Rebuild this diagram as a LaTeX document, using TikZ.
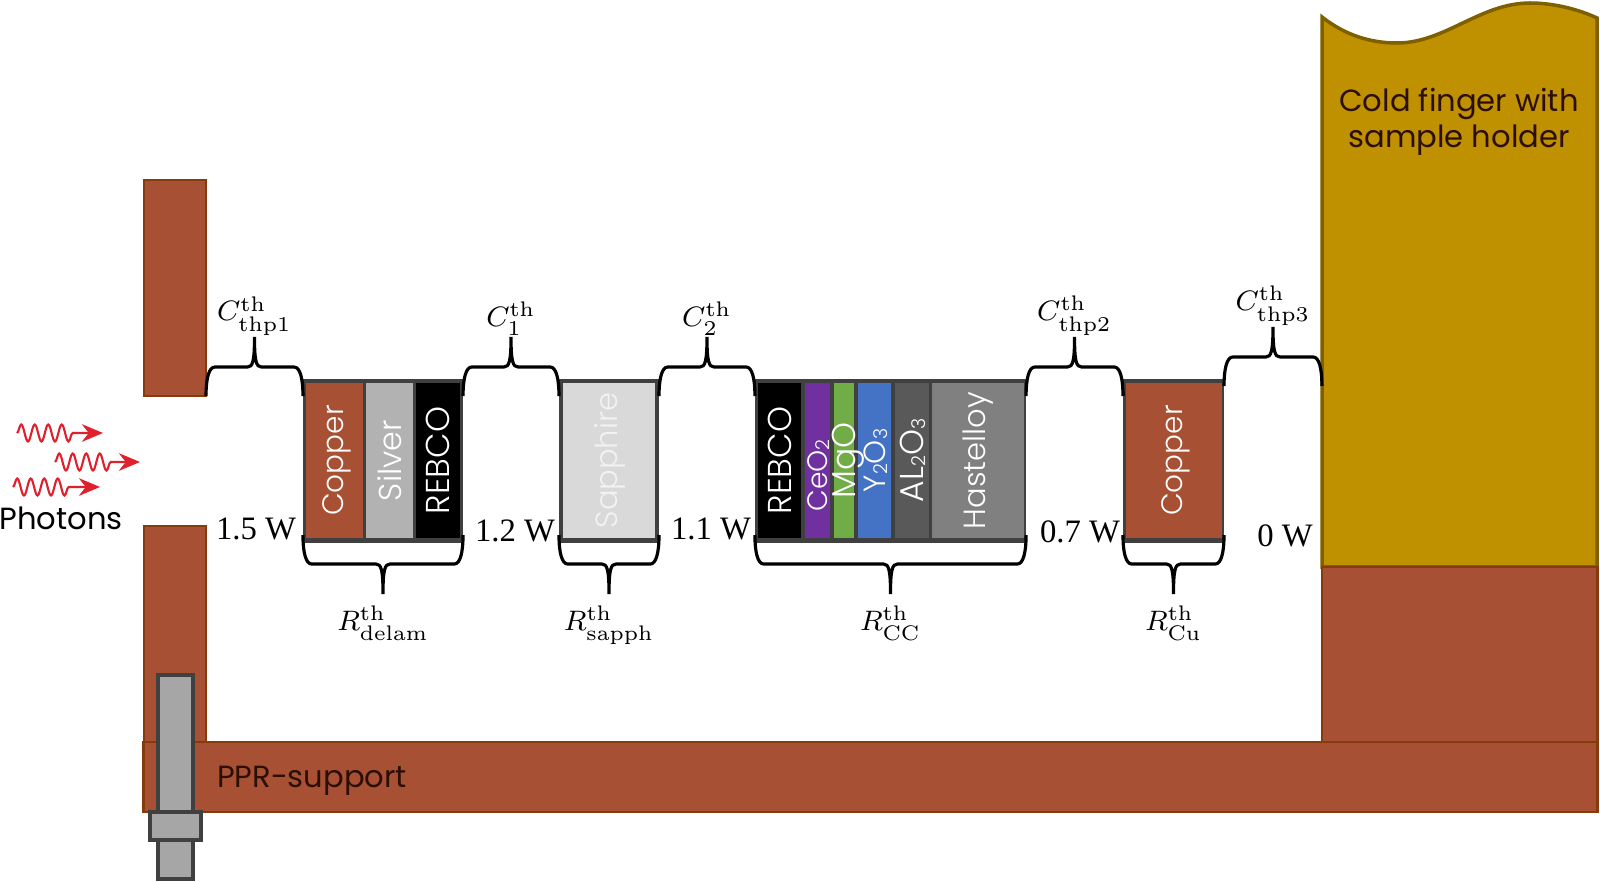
\documentclass[tikz,border=0pt]{standalone}
\usepackage[no-math]{fontspec}
\setmainfont{Poppins}
\newfontfamily\wattfont{Liberation Serif}
\newfontfamily\layerfont{Poppins Light}
\usetikzlibrary{arrows.meta,calc,decorations.pathmorphing}
\definecolor{copperfill}{HTML}{A85034}
\definecolor{copperline}{HTML}{843C0C}
\definecolor{goldfill}{HTML}{BF9000}
\definecolor{goldline}{HTML}{7F6000}
\definecolor{frameline}{HTML}{404040}
\definecolor{boltfill}{HTML}{A6A6A6}
\definecolor{darktext}{HTML}{2B0F05}
\definecolor{photonred}{HTML}{E0202C}
\definecolor{ccceo}{HTML}{7030A0}
\definecolor{ccmgo}{HTML}{70AD47}
\definecolor{ccyo}{HTML}{4472C4}
\tikzset{
  copperblock/.style={draw=copperline, fill=copperfill, line width=0.8pt, inner sep=0, outer sep=0},
  boltpart/.style={draw=frameline, fill=boltfill, line width=1pt, inner sep=0, outer sep=0},
  framebox/.style={fill=frameline, minimum height=1.64cm, inner sep=0, outer sep=0},
  layer/.style={rotate=90, minimum width=1.55cm, inner sep=0, outer sep=0, text=white, font=\layerfont\fontsize{8.7}{10}\selectfont},
  capslayer/.style={layer, font=\layerfont\fontsize{9.4}{10}\selectfont},
  copperlayer/.style={layer, fill=copperfill, font=\layerfont\fontsize{8.4}{10}\selectfont},
  thline/.style={line width=0.9pt, black},
  photon/.style={photonred, line width=0.6pt, decorate, -{Stealth[length=6pt,width=5pt]},
    decoration={snake, amplitude=0.085cm, segment length=0.135cm, post length=0.26cm}},
  watt/.style={inner sep=0, font=\wattfont\fontsize{9.3}{10}\selectfont},
  textlabel/.style={inner sep=0, font=\fontsize{8.7}{10.2}\selectfont},
}
\newcommand{\thbrace}[6]{%
  \draw[thline] let \p1=#1, \p2=#2, \n1={#3*8.25pt}, \n2={#3*16.8pt}, \n3={(\x1+\x2)/2} in
    (\x1,\y1) .. controls (\x1,\y1+.6*\n1) and (\x1+.8pt,\y1+\n1) .. (\x1+2.5pt,\y1+\n1)
    -- (\n3-2pt,\y1+\n1) .. controls (\n3-.5pt,\y1+\n1) and (\n3,\y1+1.2*\n1) .. (\n3,\y1+\n2)
    node[anchor=#4, inner sep=0, yshift={(#3-1)*1.4pt}, font=\fontsize{8}{9}\selectfont] (#5) {$#6$}
    .. controls (\n3,\y1+1.2*\n1) and (\n3+.5pt,\y1+\n1) .. (\n3+2pt,\y1+\n1)
    -- (\x2-2.5pt,\y1+\n1) .. controls (\x2-.8pt,\y1+\n1) and (\x2,\y1+.6*\n1) .. (\x2,\y1);
}
\newcommand{\cth}[1]{C^{\mathrm{th}}_{\mathrm{#1}}}
\newcommand{\rth}[1]{R^{\mathrm{th}}_{\mathrm{#1}}}
\newcommand{\thinlayer}[2][-.36em]{\smash{\raisebox{#1}{#2}}}
\newcommand{\layersub}[1]{\raisebox{-.05em}{\fontsize{5.4}{6}\selectfont #1}}
\begin{document}
\begin{tikzpicture}[x=0.01cm, y=-0.01cm]
  \useasboundingbox (0,0) rectangle (1600,882);

  \draw[draw=goldline, fill=goldfill, line width=1pt] (1322,567) -- (1322,17)
    .. controls (1345,35) and (1370,43) .. (1397,43)
    .. controls (1445,43) and (1480,3) .. (1530,3)
    .. controls (1555,3) and (1580,10) .. (1597,18) -- (1597,567) -- cycle;
  \node[textlabel, align=center, text=darktext] (fingerlabel) at (1459,122) {Cold finger with\\sample holder};

  \node[copperblock, minimum width=0.62cm, minimum height=2.16cm] (tabtop) at (175,288) {};
  \node[copperblock, minimum width=0.62cm, minimum height=2.16cm] (tabbot) at (175,634) {};
  \node[copperblock, minimum width=14.53cm, minimum height=0.70cm] (base) at (870.5,777) {};
  \node[copperblock, minimum width=2.75cm, minimum height=1.75cm] (holder) at (1459.5,654.5) {};
  \node[textlabel, text=darktext] (supportlabel) at (312,781) {PPR-support};

  \node[boltpart, minimum width=0.35cm, minimum height=0.39cm] (boltend) at (175.5,859.5) {};
  \node[boltpart, minimum width=0.35cm, minimum height=1.37cm] (boltshaft) at (175.5,743.5) {};
  \node[boltpart, minimum width=0.51cm, minimum height=0.28cm] (boltnut) at (175.5,826) {};

  \node[framebox, minimum width=1.60cm] (delam) at (383,461) {};
  \node[copperlayer, minimum height=0.57cm] (delamcu) at (334.5,460.5) {\thinlayer[-.3em]{Copper}};
  \node[layer, fill=black!30, font=\layerfont\fontsize{9}{10}\selectfont, minimum height=0.47cm] (delamag) at (389.5,460.5) {Silver};
  \node[capslayer, fill=black, minimum height=0.44cm] (delamre) at (438,460.5) {REBCO};

  \node[framebox, minimum width=1.00cm] (sapph) at (609,461) {};
  \node[layer, fill=black!15, text=white!95!black, minimum height=0.92cm] (sapphlayer) at (608.6,460.5) {\thinlayer[-.3em]{Sapphire}};

  \node[framebox, minimum width=2.71cm] (cc) at (890.5,461) {};
  \node[capslayer, fill=black, minimum height=0.43cm] (ccre) at (779.5,460.5) {REBCO};
  \node[layer, fill=ccceo, font=\layerfont\fontsize{8}{10}\selectfont, minimum height=0.25cm] (ccce) at (817.5,460.5) {\thinlayer{CeO\layersub{2}\hspace{.3cm}}};
  \node[layer, fill=ccyo, minimum height=0.33cm] (ccy) at (874.5,460.5) {\thinlayer{Y\layersub{2}O\layersub{3}}};
  \node[capslayer, fill=ccmgo, minimum height=0.20cm] (ccmg) at (844,460.5) {\thinlayer{MgO}};
  \node[capslayer, fill=black!65, minimum height=0.34cm] (ccal) at (912,460.5) {\thinlayer{AL\layersub{2}O\layersub{3}}};
  \node[layer, fill=black!50, minimum height=0.92cm] (cchast) at (978,460.5) {Hastelloy};

  \node[framebox, minimum width=1.01cm] (cuframe) at (1173.5,461) {};
  \node[copperlayer, minimum height=0.96cm] (culayer) at (1174,460.5) {\thinlayer[-.3em]{Copper}};

  \coordinate (topline) at (0,396);
  \coordinate (thpline) at (0,386);
  \coordinate (botline) at (0,535);

  \thbrace{(tabtop.south east)}{(delam.west |- topline)}{1}{south}{cthpa}{\cth{thp1}}
  \thbrace{(delam.east |- topline)}{(sapph.west |- topline)}{1}{south}{cone}{\cth{1}}
  \thbrace{(sapph.east |- topline)}{(cc.west |- topline)}{1}{south}{ctwo}{\cth{2}}
  \thbrace{(cc.east |- topline)}{(cuframe.west |- topline)}{1}{south}{cthpb}{\cth{thp2}}
  \thbrace{(cuframe.east |- thpline)}{(holder.west |- thpline)}{1}{south}{cthpc}{\cth{thp3}}

  \thbrace{(delam.west |- botline)}{(delam.east |- botline)}{-1}{north}{rdelam}{\rth{delam}}
  \thbrace{(sapph.west |- botline)}{(sapph.east |- botline)}{-1}{north}{rsapph}{\rth{sapph}}
  \thbrace{(cc.west |- botline)}{(cc.east |- botline)}{-1}{north}{rcc}{\rth{CC}}
  \thbrace{(cuframe.west |- botline)}{(cuframe.east |- botline)}{-1}{north}{rcu}{\rth{Cu}}

  \node[watt] (wa) at (256,529) {1.5 W};
  \node[watt] (wb) at (515,531) {1.2 W};
  \node[watt] (wc) at (711,529) {1.1 W};
  \node[watt] (wd) at (1080,532) {0.7 W};
  \node[watt] (we) at (1285,536) {0 W};

  \coordinate (pa1) at (17,433);
  \coordinate (pa2) at (103,433);
  \coordinate (pb1) at (55,462);
  \coordinate (pb2) at (140,462);
  \coordinate (pc1) at (13,487);
  \coordinate (pc2) at (100,487);
  \foreach \p in {a,b,c}
    \draw[photon] (p\p1) -- (p\p2);
  \node[textlabel] (photons) at (61,518) {Photons};
\end{tikzpicture}
\end{document}
